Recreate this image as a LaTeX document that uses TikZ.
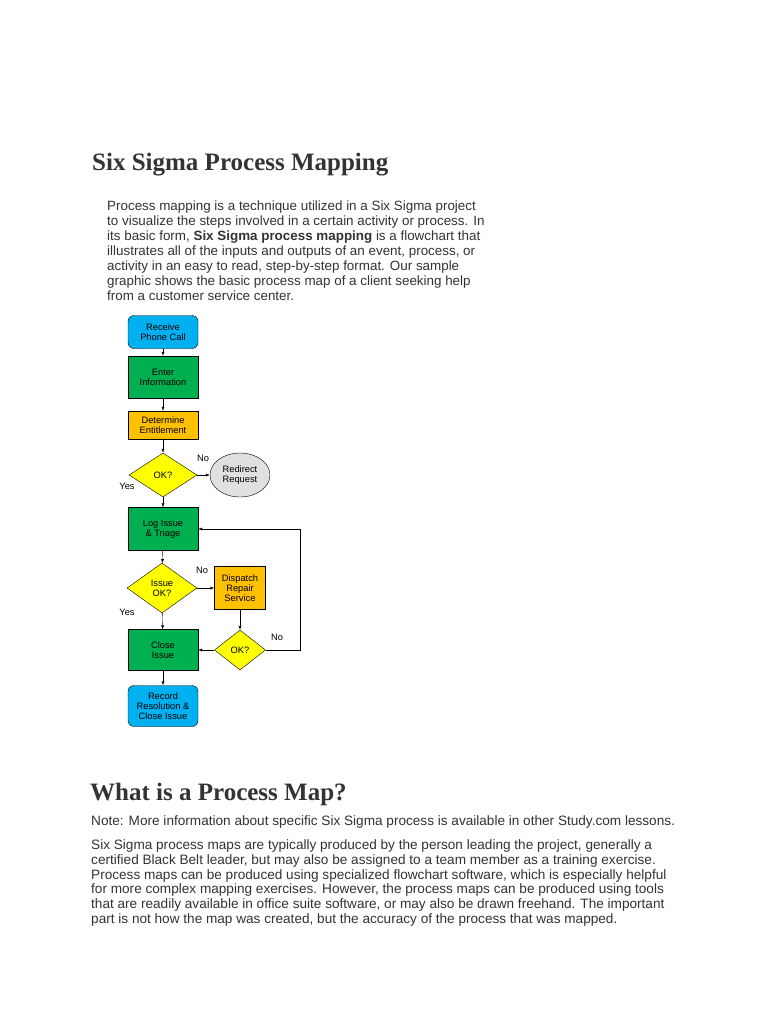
\documentclass[tikz,border=0pt]{standalone}
\usepackage{fontspec}
\setmainfont{Liberation Sans}
\newfontfamily\titlefont{Liberation Serif}
\usetikzlibrary{shapes.geometric,arrows.meta}
\definecolor{cblue}{HTML}{00B0F0}
\definecolor{cgreen}{HTML}{00B050}
\definecolor{corange}{HTML}{FFC000}
\definecolor{cyellow}{HTML}{FFFF00}
\definecolor{cgrey}{HTML}{E0E0E0}
\definecolor{txt}{HTML}{333333}
\begin{document}
\begin{tikzpicture}[x=1pt,y=-1pt,
  every node/.style={inner sep=0pt},
  box/.style={draw,minimum width=70pt,align=center,font=\fontsize{9.3}{10}\selectfont},
  term/.style={box,rounded corners=6pt,fill=cblue},
  act/.style={box,fill=cgreen},
  task/.style={box,fill=corange},
  test/.style={draw,diamond,fill=cyellow,align=center,font=\fontsize{9.3}{10}\selectfont},
  lbl/.style={font=\fontsize{9.3}{10}\selectfont},
  head/.style={anchor=base west,text=txt,font=\titlefont\bfseries\fontsize{25}{28}\selectfont},
  line/.style={anchor=base west,text=txt,font=\fontsize{13.4}{15}\selectfont},
  wide/.style={anchor=base west,text=txt,font=\fontsize{13.6}{15}\selectfont},
  flow/.style={-{Latex[length=4pt,width=3pt]}}]
\useasboundingbox[fill=white] (0,0) rectangle (768,1024);
\node[head] (h1) at (92,171) {Six Sigma Process Mapping};
\foreach \t [count=\i] in {Process mapping is a technique utilized in a Six Sigma project,
  to visualize the steps involved in a certain activity or process. In,
  {its basic form, \textbf{Six Sigma process mapping} is a flowchart that},
  {illustrates all of the inputs and outputs of an event, process, or},
  {activity in an easy to read, step-by-step format. Our sample},
  graphic shows the basic process map of a client seeking help,
  from a customer service center.}
  \node[line] (p\i) at (107,196+14.9*\i) {\t};
\node[term,minimum height=33pt] (call) at (163,332) {Receive\\Phone Call};
\node[act,minimum height=42pt] (info) at (163,377) {Enter\\Information};
\node[task,minimum height=28pt] (ent) at (163,425) {Determine\\Entitlement};
\node[test,minimum width=68pt,minimum height=44pt] (ok1) at (163,475) {OK?};
\node[draw,ellipse,fill=cgrey,minimum width=60pt,minimum height=44pt,align=center,font=\fontsize{9.3}{10}\selectfont] (redir) at (240,475) {Redirect\\Request};
\node[act,minimum height=43pt] (log) at (163,529) {Log Issue\\\& Triage};
\node[test,minimum width=70pt,minimum height=50pt] (ok2) at (162,588) {Issue\\OK?};
\node[task,minimum width=51pt,minimum height=43pt] (disp) at (240,588) {Dispatch\\Repair\\Service};
\node[test,minimum width=51pt,minimum height=40pt] (ok3) at (240,650) {OK?};
\node[act,minimum height=41pt] (close) at (163,650) {Close\\Issue};
\node[term,minimum height=41pt] (rec) at (163,706) {Record\\Resolution \&\\Close Issue};
\coordinate (c1) at (300,650);
\coordinate (c2) at (300,529);
\draw[flow] (call) -- (info);
\draw[flow] (info) -- (ent);
\draw[flow] (ent) -- (ok1);
\draw[flow] (ok1) -- (redir);
\draw[flow] (ok1) -- (log);
\draw[flow] (log) -- (ok2);
\draw[flow] (ok2) -- (disp);
\draw[flow] (ok2) -- (close);
\draw[flow] (disp) -- (ok3);
\draw[flow] (ok3) -- (close);
\draw[flow] (close) -- (rec);
\draw[flow] (ok3) -- (c1) -- (c2) -- (log);
\node[lbl] (n1) at (203,458) {No};
\node[lbl] (y1) at (127,486) {Yes};
\node[lbl] (n2) at (202,570) {No};
\node[lbl] (y2) at (127,612) {Yes};
\node[lbl] (n3) at (277,637) {No};
\node[head] (h2) at (90,800) {What is a Process Map?};
\node[wide] (note) at (91,825) {Note: More information about specific Six Sigma process is available in other Study.com lessons.};
\foreach \t [count=\i] in {{Six Sigma process maps are typically produced by the person leading the project, generally a},
  {certified Black Belt leader, but may also be assigned to a team member as a training exercise.},
  {Process maps can be produced using specialized flowchart software, which is especially helpful},
  {for more complex mapping exercises. However, the process maps can be produced using tools},
  {that are readily available in office suite software, or may also be drawn freehand. The important},
  {part is not how the map was created, but the accuracy of the process that was mapped.}}
  \node[wide] (q\i) at (91,835+14.7*\i) {\t};
\end{tikzpicture}
\end{document}
